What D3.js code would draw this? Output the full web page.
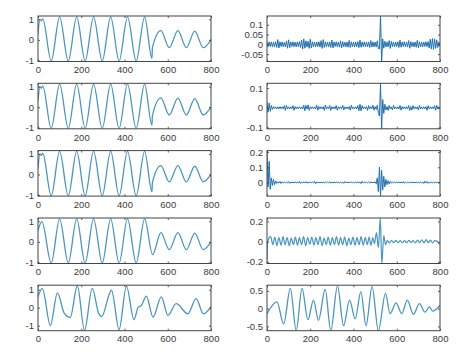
<!DOCTYPE html>
<html><head><meta charset="utf-8">
<script src="https://cdn.jsdelivr.net/npm/d3@7"></script>
<style>body{margin:0;background:#fff}svg{display:block}</style>
</head><body><svg id="c" width="474" height="361"></svg>
<script>
// ---------- data ----------
const xTicks = [0, 200, 400, 600, 800];
const xDomain = [0, 800];

// left column (smooth signals, extrema points)
const left1X = [0, 9, 15, 22, 61, 100, 140, 179, 218, 257, 297, 336, 375, 414, 454, 493, 527, 529, 568, 607, 647, 686, 725, 764, 800];
const left1Y = [0.3, 1.0, 0.93, 1.02, -1.03, 1.12, -1.03, 1.12, -1.03, 1.12, -1.03, 1.12, -1.03, 1.12, -1.03, 1.12, -0.9, -0.38, 0.45, -0.38, 0.45, -0.38, 0.43, -0.38, 0.02];
const left2X = [0, 9, 15, 22, 61, 100, 140, 179, 218, 257, 297, 336, 375, 414, 454, 493, 527, 529, 568, 607, 647, 686, 725, 764, 800];
const left2Y = [0.3, 1.0, 0.93, 1.02, -1.03, 1.12, -1.03, 1.12, -1.03, 1.12, -1.03, 1.12, -1.03, 1.12, -1.03, 1.12, -0.88, -0.42, 0.45, -0.38, 0.44, -0.38, 0.42, -0.38, 0.0];
const left3X = [0, 9, 15, 22, 61, 100, 140, 179, 218, 257, 297, 336, 375, 414, 454, 493, 527, 529, 568, 607, 647, 686, 725, 764, 800];
const left3Y = [0.3, 1.0, 0.93, 1.02, -1.03, 1.12, -1.03, 1.12, -1.03, 1.12, -1.03, 1.12, -1.03, 1.12, -1.03, 1.12, -0.84, -0.4, 0.43, -0.36, 0.43, -0.36, 0.4, -0.36, 0.0];
const left4X = [0, 18, 61, 100, 140, 179, 218, 257, 297, 336, 375, 414, 454, 493, 530, 568, 607, 647, 686, 725, 764, 800];
const left4Y = [0.55, 0.98, -1.03, 1.12, -1.03, 1.12, -1.03, 1.12, -1.03, 1.12, -1.03, 1.12, -1.03, 1.12, -0.62, 0.45, -0.38, 0.45, -0.38, 0.43, -0.38, 0.0];
const left5X = [0, 20, 57, 90, 121, 149, 182, 215, 251, 280, 294, 340, 375, 409, 444, 463, 478, 501, 532, 570, 601, 639, 693, 731, 765, 800];
const left5Y = [0.6, 1.07, -0.99, 0.82, -0.3, -0.54, 1.22, -1.25, 1.07, -0.3, -0.5, 0.97, -1.22, 1.2, -0.67, 0.02, 0.12, 0.64, -0.52, 0.6, -0.43, 0.22, -0.34, 0.5, -0.34, 0.04];

// right column: dense residuals, one local extreme every 5 samples
const right1Y = [
 0.01,-0.012,0.013,-0.011,0.012,-0.013,0.011,-0.012,0.014,-0.016,
 0.024,-0.019,0.013,-0.011,0.012,-0.012,0.01,-0.013,0.016,-0.02,
 0.023,-0.017,0.012,-0.011,0.013,-0.012,0.011,-0.013,0.012,-0.012,
 0.014,-0.016,0.022,-0.024,0.028,-0.02,0.018,-0.014,0.016,-0.021,
 0.026,-0.019,0.013,-0.012,0.011,-0.013,0.012,-0.011,0.013,-0.014,
 0.019,-0.021,0.024,-0.016,0.013,-0.012,0.011,-0.013,0.012,-0.016,
 0.022,-0.018,0.012,-0.011,0.013,-0.012,0.011,-0.014,0.018,-0.019,
 0.014,-0.012,0.011,-0.013,0.012,-0.015,0.02,-0.016,0.013,-0.012,
 0.011,-0.013,0.012,-0.012,0.014,-0.017,0.021,-0.015,0.012,-0.011,
 0.013,-0.012,0.011,-0.013,0.012,-0.016,0.019,-0.014,0.012,-0.013,
 0.012,-0.014,0.018,-0.021,-0.024,0.145,-0.088,0.028,-0.02,0.016,
 -0.014,0.012,-0.013,0.019,-0.021,0.015,-0.012,0.011,-0.013,0.012,
 -0.011,0.013,-0.016,0.021,-0.015,0.012,-0.011,0.013,-0.012,0.011,
 -0.014,0.019,-0.02,0.013,-0.012,0.011,-0.013,0.012,-0.015,0.02,
 -0.018,0.013,-0.012,0.011,-0.013,0.012,-0.011,0.013,-0.012,0.014,
 -0.019,0.026,-0.024,0.03,-0.026,0.028,-0.021,0.023,-0.016,0.012,-0.009];
const right2Y = [
 0.028,-0.022,0.024,-0.017,0.012,-0.008,0.006,-0.005,0.005,-0.005,
 0.005,-0.005,0.006,-0.005,0.005,-0.005,0.011,-0.013,0.012,-0.006,
 0.005,-0.005,0.005,-0.005,0.011,-0.012,0.006,-0.005,0.005,-0.005,
 0.005,-0.005,0.005,-0.006,0.013,-0.015,0.012,-0.006,0.015,-0.013,
 0.006,-0.005,0.005,-0.005,0.005,-0.006,0.013,-0.012,0.006,-0.005,
 0.005,-0.005,0.006,-0.013,0.014,-0.006,0.005,-0.005,0.012,-0.013,
 0.006,-0.005,0.005,-0.005,0.011,-0.012,0.006,-0.005,0.005,-0.005,
 0.013,-0.011,0.005,-0.005,0.005,-0.005,0.006,-0.012,0.013,-0.006,
 0.005,-0.005,0.005,-0.006,0.011,-0.015,0.018,-0.015,0.011,-0.005,
 0.005,-0.005,0.006,-0.013,0.011,-0.005,0.005,-0.005,0.013,-0.012,
 0.006,-0.008,0.013,-0.024,-0.042,0.124,-0.106,0.042,-0.028,0.018,
 -0.011,0.006,-0.013,0.012,-0.006,0.005,-0.011,0.012,-0.005,0.005,
 -0.005,0.005,-0.006,0.012,-0.012,0.006,-0.005,0.005,-0.005,0.005,
 -0.006,0.012,-0.013,0.006,-0.012,0.011,-0.005,0.005,-0.005,0.005,
 -0.011,0.012,-0.006,0.005,-0.005,0.005,-0.005,0.006,-0.012,0.011,
 -0.005,0.005,-0.005,0.005,-0.006,0.011,-0.012,0.012,-0.006,0.005,-0.004];
const right3Y = [
 0.21,-0.03,0.14,-0.045,0.03,-0.02,0.02,-0.015,0.01,-0.006,
 0.004,-0.003,0.007,-0.007,0.003,-0.002,0.002,-0.002,0.003,-0.003,
 0.006,-0.006,0.003,-0.002,0.002,-0.002,0.003,-0.002,0.002,-0.003,
 0.007,-0.006,0.003,-0.002,0.002,-0.003,0.006,-0.005,0.002,-0.002,
 0.002,-0.002,0.003,-0.003,0.008,-0.008,0.003,-0.002,0.002,-0.002,
 0.002,-0.003,0.002,-0.002,0.002,-0.002,0.003,-0.002,0.005,-0.005,
 0.002,-0.002,0.002,-0.002,0.003,-0.002,0.002,-0.002,0.002,-0.003,
 0.003,-0.006,0.006,-0.002,0.002,-0.002,0.002,-0.002,0.003,-0.002,
 0.002,-0.002,0.002,-0.003,0.002,-0.002,0.003,-0.007,0.008,-0.003,
 0.002,-0.002,0.002,-0.002,0.003,-0.004,0.005,-0.003,0.002,-0.002,
 0.004,-0.008,0.03,-0.06,0.1,-0.09,0.08,-0.05,0.04,-0.03,
 0.02,-0.015,0.012,-0.01,0.007,-0.005,0.004,-0.003,0.002,-0.002,
 0.002,-0.002,0.003,-0.002,0.002,-0.003,0.006,-0.005,0.002,-0.002,
 0.002,-0.002,0.002,-0.002,0.003,-0.002,0.002,-0.002,0.002,-0.002,
 0.002,-0.003,0.002,-0.002,0.003,-0.007,0.008,-0.003,0.006,-0.006,
 0.002,-0.002,0.002,-0.002,0.002,-0.003,0.002,-0.002,0.002,-0.002,0.001];
const right4X = [0,3,17,27,36,46,55,65,74,84,93,103,112,122,131,141,150,160,169,179,188,198,207,217,226,236,245,255,264,274,283,293,302,312,321,331,340,350,359,369,378,388,397,407,416,426,435,445,454,464,472,481,489,497,506,515,524,531,540,548,556,566,576,586,596,606,616,626,636,646,656,666,676,686,696,706,716,726,736,746,756,766,776,786,796,800];
const right4Y = [-0.18,0.0,0.05,-0.03,0.045,-0.04,0.04,-0.035,0.05,-0.03,0.04,-0.04,0.035,-0.03,0.045,-0.035,0.04,-0.03,0.05,-0.04,0.04,-0.025,0.045,-0.035,0.04,-0.03,0.05,-0.04,0.035,-0.03,0.045,-0.035,0.04,-0.03,0.05,-0.035,0.04,-0.03,0.045,-0.04,0.035,-0.03,0.045,-0.035,0.04,-0.03,0.05,-0.035,0.04,-0.03,0.045,-0.035,0.04,-0.02,0.09,-0.06,0.234,-0.216,0.06,-0.03,0.012,-0.012,0.01,-0.01,0.012,-0.01,0.01,-0.012,0.01,-0.01,0.012,-0.008,0.01,-0.012,0.015,-0.01,0.018,-0.012,0.02,-0.01,0.015,-0.012,0.01,0.005,-0.022,-0.018];
const right5X = [0,46,77,108,135,162,189,215,238,269,295,326,354,382,408,434,458,486,515,548,569,597,623,649,677,705,731,751,766,800];
const right5Y = [-0.14,0.19,-0.43,0.57,-0.62,0.57,-0.31,0.24,-0.33,0.54,-0.62,0.64,-0.48,0.24,-0.29,0.48,-0.48,0.62,-0.62,0.43,-0.14,0.16,-0.14,0.24,-0.16,0.14,-0.1,0.05,-0.07,0.1];

// axis limits and tick values
const leftYLim = [[-1.05,1.16],[-1.05,1.16],[-1.05,1.16],[-1.05,1.16],[-1.28,1.25]];
const leftYTicks = [-1, 0, 1];
const rightYLim = [[-0.088,0.145],[-0.106,0.124],[-0.09,0.21],[-0.216,0.234],[-0.62,0.66]];
const rightYTicks = [[-0.05,0,0.05,0.1],[-0.1,0,0.1],[0,0.1,0.2],[-0.2,0,0.2],[-0.5,0,0.5]];

// ---------- drawing ----------
const svg = d3.select('#c');
const colX = [38, 267], axW = 173, axH = 45.5;
const rowTop = [16, 83.3, 150.6, 218, 285.2];
const smoothColor = '#4a96bd', noiseColor = '#1f6fae';

function panel(col, row, xs, ys, ylim, yticks, color, sw, curve) {
  const x0 = colX[col], y0 = rowTop[row];
  const x = d3.scaleLinear().domain(xDomain).range([x0, x0 + axW]);
  const y = d3.scaleLinear().domain(ylim).range([y0 + axH, y0]);
  const id = 'clip' + col + row;
  svg.append('clipPath').attr('id', id).append('rect')
    .attr('x', x0).attr('y', y0).attr('width', axW).attr('height', axH);
  const line = d3.line().x((d, i) => x(xs[i])).y(d => y(d)).curve(curve);
  svg.append('path').datum(ys).attr('d', line)
    .attr('fill', 'none').attr('stroke', color).attr('stroke-width', sw)
    .attr('stroke-linejoin', 'round').attr('clip-path', `url(#${id})`);

  const style = g => {
    g.select('.domain').remove();
    g.selectAll('line').attr('stroke', '#333').attr('stroke-width', 0.8);
    g.selectAll('text').attr('fill', '#3a3a3a')
      .style('font-family', '"Liberation Sans", Arial, Helvetica, sans-serif')
      .style('font-size', '9.5px');
  };
  svg.append('g').attr('transform', `translate(0,${y0 + axH})`)
    .call(d3.axisBottom(x).tickValues(xTicks).tickSizeInner(-2).tickSizeOuter(0).tickPadding(5)).call(style);
  svg.append('g').attr('transform', `translate(0,${y0})`)
    .call(d3.axisTop(x).tickValues(xTicks).tickSizeInner(-2).tickSizeOuter(0).tickFormat('')).call(style);
  svg.append('g').attr('transform', `translate(${x0},0)`)
    .call(d3.axisLeft(y).tickValues(yticks).tickSizeInner(-2).tickSizeOuter(0).tickPadding(4).tickFormat(d => String(d))).call(style);
  svg.append('g').attr('transform', `translate(${x0 + axW},0)`)
    .call(d3.axisRight(y).tickValues(yticks).tickSizeInner(-2).tickSizeOuter(0).tickFormat('')).call(style);
  svg.append('rect').attr('x', x0).attr('y', y0).attr('width', axW).attr('height', axH)
    .attr('fill', 'none').attr('stroke', '#444').attr('stroke-width', 1);
}

const leftX = [left1X, left2X, left3X, left4X, left5X];
const leftY = [left1Y, left2Y, left3Y, left4Y, left5Y];
leftY.forEach((ys, r) => panel(0, r, leftX[r], ys, leftYLim[r], leftYTicks, smoothColor, 1.3, d3.curveMonotoneX));

const noiseX = ys => ys.map((d, i) => i * 5);
panel(1, 0, noiseX(right1Y), right1Y, rightYLim[0], rightYTicks[0], noiseColor, 1, d3.curveLinear);
panel(1, 1, noiseX(right2Y), right2Y, rightYLim[1], rightYTicks[1], noiseColor, 1, d3.curveLinear);
panel(1, 2, noiseX(right3Y), right3Y, rightYLim[2], rightYTicks[2], noiseColor, 1, d3.curveLinear);
panel(1, 3, right4X, right4Y, rightYLim[3], rightYTicks[3], smoothColor, 1.2, d3.curveMonotoneX);
panel(1, 4, right5X, right5Y, rightYLim[4], rightYTicks[4], smoothColor, 1.3, d3.curveMonotoneX);
</script></body></html>
